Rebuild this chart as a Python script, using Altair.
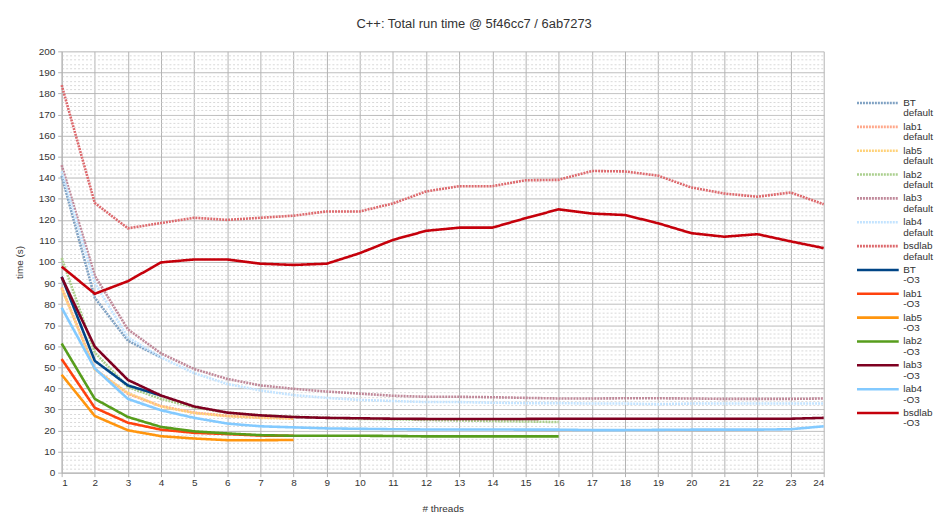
import altair as alt
import pandas as pd

threads = list(range(1, 25))

series_names = [
    "BT default", "lab1 default", "lab5 default", "lab2 default", "lab3 default", "lab4 default", "bsdlab default",
    "BT -O3", "lab1 -O3", "lab5 -O3", "lab2 -O3", "lab3 -O3", "lab4 -O3", "bsdlab -O3",
]
series_colors = [
    "#80a2c3", "#ffa98c", "#ffd27a", "#abcf8e", "#c0899a", "#c4e4ff", "#dd6a6e",
    "#004586", "#ff420e", "#ff950e", "#579d1c", "#7e0021", "#83caff", "#c5000b",
]

bt_default = [141, 83, 62.6, 54.7]
lab1_default = [88, 49.2, 37.4, 31.6, 28.5, 27.0, 26.2, 25.8]
lab5_default = [87.5, 49.0, 37.8, 31.4, 28.3, 26.8, 26.0, 25.6]
lab2_default = [101.9, 57, 40.6, 35, 31, 28.5, 27.2, 26.5, 26, 25.5, 25.3, 25, 24.8, 24.5, 24.3, 24]
lab3_default = [146, 93.5, 68, 56.6, 49.2, 44.5, 41.4, 39.8, 38.5, 37.5, 36.5, 36, 36, 35.8, 35.5,
                35.2, 35.2, 35.3, 35.3, 35.2, 35, 35, 35, 35.2]
lab4_default = [143, 90, 64.2, 54.7, 47.2, 42.1, 39, 36.8, 35.5, 34.5, 34, 33.5, 33.5, 33.2, 33, 33,
                32.8, 32.8, 32.5, 32.8, 32.8, 32.8, 32.8, 32.8]
bsdlab_default = [184, 128, 116, 118.5, 121, 120, 121, 122, 124, 124, 127.8, 133.5, 136, 136, 138.8,
                  139, 143.2, 143, 141, 135.4, 132.5, 131, 133, 127.4]

bt_o3 = [93, 53.1, 41.4, 36.6]
lab1_o3 = [53.9, 30.8, 23.7, 20.4, 18.9, 18.3, 17.6, 17.5]
lab5_o3 = [46.5, 26.9, 20.1, 17.3, 16.2, 15.4, 15.4, 15.5]
lab2_o3 = [61.3, 35, 26.4, 21.7, 19.6, 18.6, 17.8, 17.5, 17.5, 17.5, 17.4, 17.2, 17.2, 17.2, 17.2, 17.2]
lab3_o3 = [92.8, 59.8, 44, 36.6, 31.4, 28.5, 27.2, 26.4, 26, 25.8, 25.6, 25.5, 25.5, 25.5, 25.5,
           25.6, 25.6, 25.6, 25.6, 25.6, 25.6, 25.6, 25.6, 26]
lab4_o3 = [78.3, 49.5, 35, 29.6, 26, 23.3, 22, 21.5, 21, 20.8, 20.6, 20.5, 20.5, 20.5, 20.4, 20.4,
           20.2, 20.2, 20.3, 20.4, 20.4, 20.4, 20.6, 22]
bsdlab_o3 = [97.8, 84.9, 90.9, 99.8, 101.2, 101.2, 99.2, 98.6, 99.2, 104.2, 110.5, 114.8, 116.3, 116.3,
             120.8, 125, 123, 122.3, 118.4, 113.7, 112, 113.2, 109.8, 106.6]

all_values = [bt_default, lab1_default, lab5_default, lab2_default, lab3_default, lab4_default, bsdlab_default,
              bt_o3, lab1_o3, lab5_o3, lab2_o3, lab3_o3, lab4_o3, bsdlab_o3]

rows = []
for order, (name, vals) in enumerate(zip(series_names, all_values)):
    for t, v in zip(threads, vals):
        rows.append({"series": name, "threads": t, "time": v, "order": order})
df = pd.DataFrame(rows)

dash_range = [[2, 1]] * 7 + [[1, 0]] * 7

y_ticks = list(range(0, 201, 2))

base = alt.Chart(df).mark_line(strokeWidth=2.6).encode(
    x=alt.X("threads:Q",
            scale=alt.Scale(domain=[1, 24], nice=False),
            axis=alt.Axis(values=threads, format="d", title="# threads",
                          grid=True, gridColor="#b3b3b3", gridWidth=1,
                          labelFontSize=10, labelColor="#333333", labelPadding=1,
                          tickSize=4, tickColor="#b3b3b3",
                          domainColor="#b3b3b3",
                          titleFontSize=10, titleFontWeight="normal", titleColor="#333333",
                          titlePadding=16)),
    y=alt.Y("time:Q",
            scale=alt.Scale(domain=[0, 200], nice=False),
            axis=alt.Axis(values=y_ticks, title="time (s)",
                          labelExpr="datum.value % 10 === 0 ? datum.label : ''",
                          grid=True,
                          gridColor={"condition": {"test": "datum.value % 10 === 0", "value": "#b3b3b3"},
                                     "value": "#d9d9d9"},
                          gridDash={"condition": {"test": "datum.value % 10 === 0", "value": [1, 0]},
                                    "value": [2, 2]},
                          tickColor={"condition": {"test": "datum.value % 10 === 0", "value": "#b3b3b3"},
                                     "value": "transparent"},
                          tickSize=4,
                          labelFontSize=10, labelColor="#333333", labelPadding=3,
                          domainColor="#b3b3b3",
                          titleFontSize=10, titleFontWeight="normal", titleColor="#333333",
                          titlePadding=14)),
    color=alt.Color("series:N",
                    scale=alt.Scale(domain=series_names, range=series_colors),
                    legend=alt.Legend(title=None, orient="none", legendX=799, legendY=44,
                                      labelExpr="split(datum.label, ' ')",
                                      labelFontSize=10, labelColor="#333333",
                                      labelBaseline="middle", labelOffset=3,
                                      symbolType="stroke", symbolSize=1764,
                                      symbolStrokeWidth=2.6, rowPadding=0,
                                      clipHeight=16,
                                      labelLimit=200)),
    strokeDash=alt.StrokeDash("series:N",
                              scale=alt.Scale(domain=series_names, range=dash_range),
                              legend=None),
    order=alt.Order("threads:Q"),
    detail="series:N",
)

chart = base.properties(
    width=767,
    height=424,
    title=alt.Title("C++: Total run time @ 5f46cc7 / 6ab7273", fontSize=13, fontWeight="normal",
                    color="#333333", offset=16, anchor="middle", frame="bounds"),
    padding={"left": 6, "top": 8, "right": 0, "bottom": 0},
).configure(
    font="Liberation Sans",
    style={"guide-label": {"lineHeight": 10.5}},
).configure_view(
    stroke=None,
)

chart.save("out.html", embed_options={"renderer": "svg", "actions": False})
